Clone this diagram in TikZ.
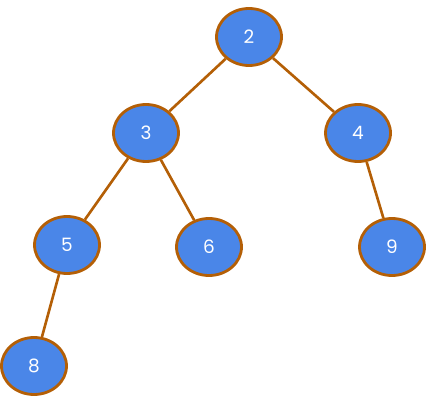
\documentclass[tikz,border=0pt]{standalone}
\usepackage{fontspec}
\setmainfont{Poppins}
\usetikzlibrary{shapes.geometric}

\definecolor{nodeblue}{HTML}{4A86E8}
\definecolor{edgebrown}{HTML}{B45F06}

\begin{document}
\begin{tikzpicture}[
x=0.02cm, y=-0.02cm,
vert/.style={
draw=edgebrown,
line width=1.6pt,
fill=nodeblue,
ellipse,
minimum width=1.3cm,
minimum height=1.14cm,
inner sep=0pt,
text=white,
font=\fontsize{10.5}{12}\selectfont
},
link/.style={
draw=edgebrown,
line width=1.5pt
}
]

\useasboundingbox (0,0) rectangle (431,408);

\node[vert] (n2) at (249,37)  {2};
\node[vert] (n3) at (146,133) {3};
\node[vert] (n4) at (358,133) {4};
\node[vert] (n5) at (67,245)  {5};
\node[vert] (n6) at (209,247) {6};
\node[vert] (n9) at (392,247) {9};
\node[vert] (n8) at (34,366)  {8};

\draw[link] (n2) -- (n3);
\draw[link] (n2) -- (n4);
\draw[link] (n3) -- (n5);
\draw[link] (n3) -- (n6);
\draw[link] (n4) -- (n9);
\draw[link] (n5) -- (n8);

\end{tikzpicture}
\end{document}
